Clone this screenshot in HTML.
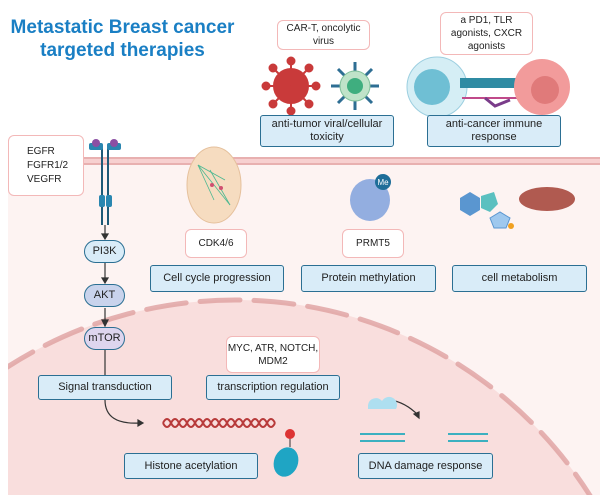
<!DOCTYPE html>
<html><head><meta charset="utf-8"><style>
html,body{margin:0;width:600px;height:504px;overflow:hidden}
body{background:#fff;font-family:"Liberation Sans",sans-serif;position:relative}
.a{position:absolute;box-sizing:border-box;display:flex;align-items:center;justify-content:center;text-align:center;font-size:11px;color:#222;line-height:13px}
.w{background:#fff;border:1.5px solid #f3b8b8;border-radius:6px;font-size:10px}
.b{background:#d9ecf8;border:1.5px solid #2b6f93;border-radius:3px;font-size:11px}
.p{border:1.5px solid #2b6f93;border-radius:12px;font-size:11px}
</style></head><body>
<svg width="600" height="504" style="position:absolute;left:0;top:0">
<defs><clipPath id="c"><rect x="8" y="160" width="592" height="335"/></clipPath></defs>
<rect x="8" y="160" width="592" height="335" fill="#fdf3f2"/>
<g clip-path="url(#c)">
<circle cx="235" cy="720" r="420" fill="#f9dedd"/>
<circle cx="235" cy="720" r="420" fill="none" stroke="#dfa0a0" stroke-width="5" stroke-dasharray="40 14" stroke-linecap="round" opacity="0.8"/>
</g>
<rect x="8" y="157" width="592" height="8" fill="#f7d0d0"/>
<line x1="8" y1="158" x2="600" y2="158" stroke="#e4a5a5" stroke-width="1.5"/>
<line x1="8" y1="164" x2="600" y2="164" stroke="#e4a5a5" stroke-width="1.5"/>
<g stroke="#1d5a78" stroke-width="2"><line x1="102" y1="148" x2="102" y2="225"/><line x1="108" y1="148" x2="108" y2="225"/></g>
<rect x="89" y="143" width="14" height="7" rx="2" fill="#2a86b0"/><rect x="107" y="143" width="14" height="7" rx="2" fill="#2a86b0"/>
<circle cx="96" cy="143" r="4" fill="#8b4fa3"/><circle cx="114" cy="143" r="4" fill="#8b4fa3"/>
<rect x="99" y="195" width="6" height="12" rx="2" fill="#2a86b0"/><rect x="106" y="195" width="6" height="12" rx="2" fill="#2a86b0"/>
<g stroke="#333" stroke-width="1.2" fill="#333">
<line x1="105" y1="225" x2="105" y2="236"/><path d="M102 234 L105 239 L108 234Z"/>
<line x1="105" y1="263" x2="105" y2="280"/><path d="M102 278 L105 283 L108 278Z"/>
<line x1="105" y1="308" x2="105" y2="322"/><path d="M102 320 L105 326 L108 320Z"/>
<line x1="105" y1="350" x2="105" y2="375"/>
<path d="M105 400 Q105 425 140 423" fill="none"/><path d="M138 420 L143 423 L138 426Z"/>
<path d="M390 400 Q405 402 418 415" fill="none"/><path d="M414 414 L419 418 L419 412Z"/>
</g>
<g fill="#c93a3a" stroke="#c93a3a" stroke-width="2">
<circle cx="291" cy="86" r="17"/>
<g><line x1="291" y1="86" x2="291" y2="62"/><line x1="291" y1="86" x2="291" y2="110"/><line x1="291" y1="86" x2="267" y2="86"/><line x1="291" y1="86" x2="315" y2="86"/><line x1="291" y1="86" x2="274" y2="69"/><line x1="291" y1="86" x2="308" y2="69"/><line x1="291" y1="86" x2="274" y2="103"/><line x1="291" y1="86" x2="308" y2="103"/></g>
<circle cx="291" cy="61" r="3.5"/><circle cx="291" cy="111" r="3.5"/><circle cx="266" cy="86" r="3.5"/><circle cx="316" cy="86" r="3.5"/><circle cx="273" cy="68" r="3.5"/><circle cx="309" cy="68" r="3.5"/><circle cx="273" cy="104" r="3.5"/><circle cx="309" cy="104" r="3.5"/>
</g>
<g stroke="#2e6e93" stroke-width="3"><line x1="355" y1="62" x2="355" y2="110"/><line x1="331" y1="86" x2="379" y2="86"/><line x1="338" y1="69" x2="372" y2="103"/><line x1="372" y1="69" x2="338" y2="103"/></g>
<circle cx="355" cy="86" r="15" fill="#bfe3c9" stroke="#7fbf9a"/><circle cx="355" cy="86" r="8" fill="#3fae7f"/>
<circle cx="437" cy="87" r="30" fill="#d5eef5" stroke="#9ccfe0"/><circle cx="432" cy="87" r="18" fill="#6fbfd4"/>
<rect x="460" y="78" width="60" height="10" fill="#2f8ba3"/><line x1="462" y1="98" x2="525" y2="98" stroke="#c04a8a" stroke-width="2"/><path d="M485 98 L495 106 L510 100" stroke="#7a3c8a" stroke-width="3" fill="none"/>
<circle cx="542" cy="87" r="28" fill="#f29b9b"/><circle cx="545" cy="90" r="14" fill="#e07a7a"/>
<ellipse cx="214" cy="185" rx="27" ry="38" fill="#f6dcc0" stroke="#e5c09c"/>
<g stroke="#4bb891" stroke-width="0.8"><line x1="198" y1="165" x2="230" y2="205"/><line x1="198" y1="165" x2="214" y2="200"/><line x1="230" y1="205" x2="210" y2="170"/><line x1="198" y1="165" x2="225" y2="180"/></g>
<circle cx="212" cy="185" r="2" fill="#d05070"/><circle cx="221" cy="188" r="2" fill="#d05070"/>
<ellipse cx="370" cy="200" rx="20" ry="21" fill="#93aee0"/>
<circle cx="383" cy="182" r="8" fill="#1f6e99"/><text x="383" y="185" font-size="8" fill="#fff" text-anchor="middle" font-family="Liberation Sans">Me</text>
<polygon points="460,198 470,192 480,198 480,210 470,216 460,210" fill="#5a96d0"/>
<polygon points="481,196 494,192 498,204 490,212 481,208" fill="#5bc0c0"/>
<polygon points="490,218 500,212 510,218 506,228 494,228" fill="#9fc8ee" stroke="#5a96d0"/>
<circle cx="511" cy="226" r="3" fill="#f0a020"/>
<ellipse cx="547" cy="199" rx="28" ry="12" fill="#b05a50"/>
<path d="M163 423 q4 -8 8 0 t8 0 t8 0 t8 0 t8 0 t8 0 t8 0 t8 0 t8 0 t8 0 t8 0 t8 0 t8 0 t8 0" stroke="#b83a3a" stroke-width="2" fill="none"/>
<path d="M163 423 q4 8 8 0 t8 0 t8 0 t8 0 t8 0 t8 0 t8 0 t8 0 t8 0 t8 0 t8 0 t8 0 t8 0 t8 0" stroke="#b83a3a" stroke-width="2" fill="none"/>
<ellipse cx="286" cy="462" rx="12" ry="15" fill="#1fa5c4" transform="rotate(20 286 462)"/>
<line x1="290" y1="447" x2="290" y2="438" stroke="#333"/><circle cx="290" cy="434" r="5" fill="#d33"/>
<path d="M368 405 a8 8 0 0 1 14 -4 a8 8 0 0 1 14 8 h-28z" fill="#aedff0"/>
<g stroke="#3cb0c0" stroke-width="2"><line x1="360" y1="434" x2="405" y2="434"/><line x1="360" y1="441" x2="405" y2="441"/><line x1="448" y1="434" x2="488" y2="434"/><line x1="448" y1="441" x2="488" y2="441"/></g>
</svg>
<div style="position:absolute;left:0px;top:16px;width:245px;text-align:center;color:#1a7fc4;font-weight:bold;font-size:19px;line-height:23px;white-space:nowrap">Metastatic Breast cancer<br>targeted therapies</div>
<div class="a w" style="left:277px;top:20px;width:93px;height:30px">CAR-T, oncolytic virus</div>
<div class="a w" style="left:440px;top:12px;width:93px;height:43px">a PD1, TLR agonists, CXCR agonists</div>
<div class="a b" style="left:260px;top:115px;width:134px;height:32px">anti-tumor viral/cellular toxicity</div>
<div class="a b" style="left:427px;top:115px;width:134px;height:32px">anti-cancer immune response</div>
<div class="a w" style="left:8px;top:135px;width:76px;height:61px;justify-content:flex-start;text-align:left;padding-left:18px;line-height:14px">EGFR<br>FGFR1/2<br>VEGFR</div>
<div class="a w" style="left:185px;top:229px;width:62px;height:29px">CDK4/6</div>
<div class="a w" style="left:342px;top:229px;width:62px;height:29px">PRMT5</div>
<div class="a p" style="left:84px;top:240px;width:41px;height:23px;background:#d9ecf8">PI3K</div>
<div class="a p" style="left:84px;top:284px;width:41px;height:23px;background:#c9d3ec">AKT</div>
<div class="a p" style="left:84px;top:327px;width:41px;height:23px;background:#ded5ee">mTOR</div>
<div class="a b" style="left:150px;top:265px;width:134px;height:27px">Cell cycle progression</div>
<div class="a b" style="left:301px;top:265px;width:135px;height:27px">Protein methylation</div>
<div class="a b" style="left:452px;top:265px;width:135px;height:27px">cell metabolism</div>
<div class="a w" style="left:226px;top:336px;width:94px;height:37px">MYC, ATR, NOTCH, MDM2</div>
<div class="a b" style="left:38px;top:375px;width:134px;height:25px">Signal transduction</div>
<div class="a b" style="left:206px;top:375px;width:134px;height:25px">transcription regulation</div>
<div class="a b" style="left:124px;top:453px;width:134px;height:26px">Histone acetylation</div>
<div class="a b" style="left:358px;top:453px;width:135px;height:26px">DNA damage response</div>
</body></html>
